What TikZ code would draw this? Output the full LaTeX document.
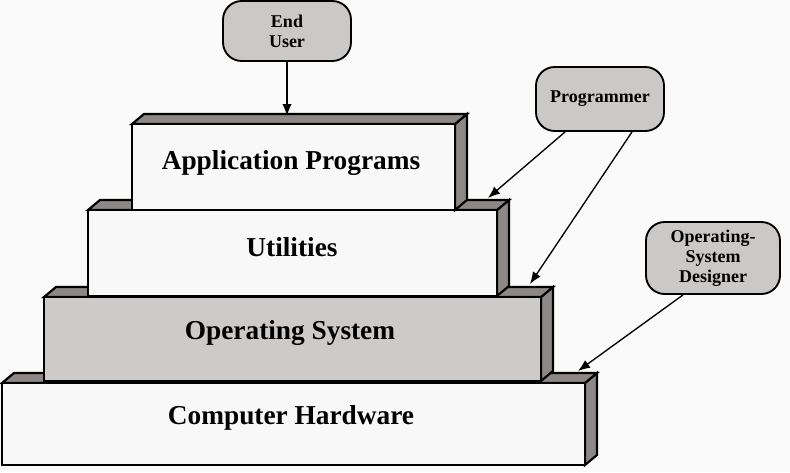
\documentclass[tikz,border=0pt]{standalone}
\usepackage{fontspec}
\setmainfont{Liberation Serif}
\begin{document}
\begin{tikzpicture}[x=0.75pt,y=-0.75pt,
  face/.style={draw=black,line width=1.6pt,line join=miter},
  darkface/.style={face,fill=sideg},
  lbl/.style={font=\bfseries\fontsize{20.5}{22}\selectfont},
  bub/.style={draw=black,line width=1.4pt,fill=bubg,rounded corners=14pt,align=center,font=\bfseries\fontsize{13.5}{15}\selectfont,inner sep=1pt},
  arr/.style={-{Latex[length=9pt,width=7pt]},line width=1pt}]
\definecolor{sideg}{HTML}{8E8787}
\definecolor{bubg}{HTML}{CBC8C8}
\definecolor{frontw}{HTML}{F8F8F8}
\definecolor{frontg}{HTML}{CFCACA}
\usetikzlibrary{arrows.meta}
\fill[white!96!gray] (0,0) rectangle (790,472);
\useasboundingbox (0,0) rectangle (790,472);
\newcommand{\slab}[6]{% left right top bottom fill name
  \draw[darkface] (#2,#3)--(#2+12,#3-10)--(#2+12,#4-10)--(#2,#4)--cycle;
  \draw[darkface] (#1,#3)--(#1+12,#3-10)--(#2+12,#3-10)--(#2,#3)--cycle;
  \draw[face,fill=#5] (#1,#3) rectangle (#2,#4);
  \coordinate (#6) at ({(#1+#2)/2},{(#3+#4)/2});}
\slab{2}{585}{383}{465}{frontw}{hw}
\slab{44}{541}{297}{381}{frontg}{os}
\slab{88}{497}{210}{296}{frontw}{ut}
\slab{132}{455}{124}{210}{frontw}{ap}
\node[lbl] at (291,163) {Application Programs};
\node[lbl] at (292,247) {Utilities};
\node[lbl] at (290,333) {Operating System};
\node[lbl] at (291,418) {Computer Hardware};
\node[bub,minimum width=128pt*0.75,minimum height=60pt*0.75] (eu) at (287,31) {End\\User};
\node[bub,minimum width=128pt*0.75,minimum height=64pt*0.75] (pr) at (600,99) {Programmer};
\node[bub,minimum width=134pt*0.75,minimum height=72pt*0.75] (sd) at (713,258) {Operating-\\System\\Designer};
\coordinate (apt) at (287,116);
\coordinate (utt) at (488,198);
\coordinate (ost) at (530,284);
\coordinate (hwt) at (578,371);
\draw[arr] (eu.south) -- (apt);
\draw[arr] (pr.south west)++(30,0) coordinate (p1) (p1) -- (utt);
\draw[arr] (pr.south)++(32,0) coordinate (p2) (p2) -- (ost);
\draw[arr] (sd.south)++(-30,0) coordinate (p3) (p3) -- (hwt);
\end{tikzpicture}
\end{document}
